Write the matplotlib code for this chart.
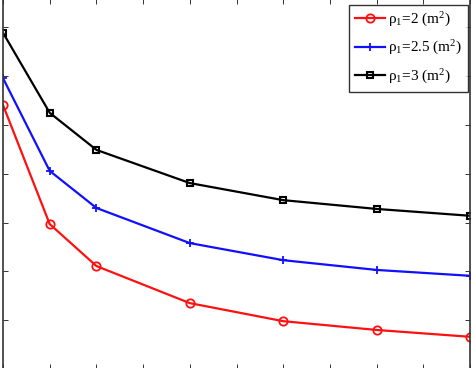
import numpy as np
import matplotlib.pyplot as plt

plt.rcParams['font.family'] = ['Liberation Serif', 'DejaVu Serif']
plt.rcParams['mathtext.fontset'] = 'custom'
plt.rcParams['mathtext.rm'] = 'Liberation Serif'
plt.rcParams['mathtext.it'] = 'Liberation Serif'

# data (y in tick units)
x = [1, 2, 3, 5, 7, 9, 11]
rho_2 = [5.41, 2.97, 2.11, 1.35, 0.98, 0.80, 0.66]
rho_25 = [5.96, 4.06, 3.30, 2.58, 2.23, 2.03, 1.91]
rho_3 = [6.89, 5.25, 4.49, 3.81, 3.46, 3.28, 3.14]
labels = ['ρ$_1$=2 (m$^2$)', 'ρ$_1$=2.5 (m$^2$)', 'ρ$_1$=3 (m$^2$)']

fig = plt.figure(figsize=(4.74, 3.68), dpi=100)
ax = fig.add_axes([3 / 474, -1 / 368, 467 / 474, 370 / 368])

ax.plot(x, rho_2, color='#ff1010', lw=1.6, marker='o', ms=6, mfc='none', mew=1.3, label=labels[0])
ax.plot(x, rho_25, color='#1010ff', lw=1.6, marker='+', ms=6, mew=1.3, label=labels[1])
ax.plot(x, rho_3, color='black', lw=1.6, marker='s', ms=5, mfc='none', mew=1.5, label=labels[2])

ax.set_xlim(1, 11)
ax.set_ylim(0, 370 / 48.8)
ax.set_xticks(np.arange(1, 12))
ax.set_yticks(np.arange(0, 8))
ax.set_xticklabels([])
ax.set_yticklabels([])
ax.tick_params(direction='in', top=True, right=True, length=3.4, width=0.7, color='#333333')
for s in ax.spines.values():
    s.set_linewidth(1.2)
    s.set_color('#333333')

leg = ax.legend(loc='upper right', bbox_to_anchor=(0.9957, 0.9838), borderaxespad=0,
                fancybox=False, edgecolor='black', fontsize=11, handlelength=2.0,
                handletextpad=0.2, labelspacing=0.68, borderpad=0.36)
leg.get_frame().set_linewidth(1.0)

plt.savefig('out.png', dpi=100)
